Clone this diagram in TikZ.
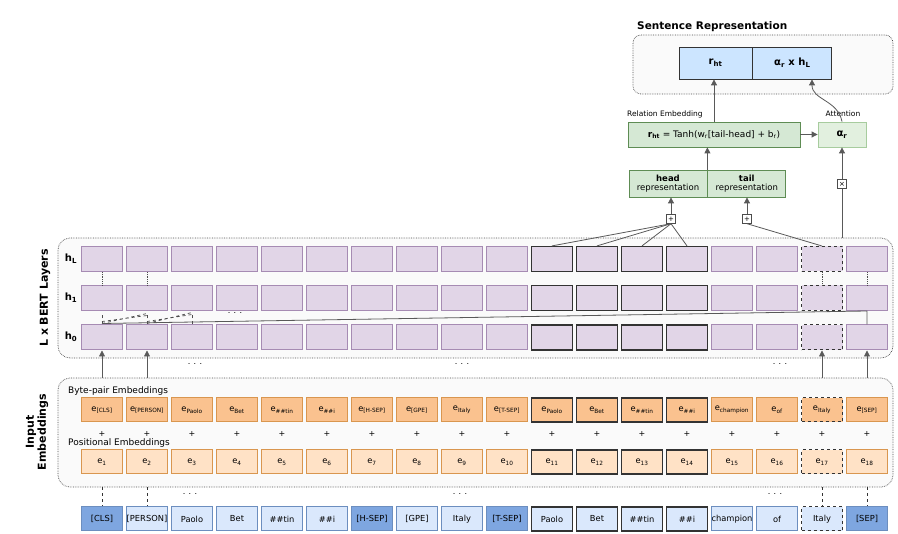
\documentclass[tikz,border=0pt]{standalone}
\usepackage{fontspec}
\setmainfont{DejaVu Sans}
\usetikzlibrary{arrows.meta}
\definecolor{pf}{HTML}{E1D5E7}\definecolor{pd}{HTML}{A68BB3}
\definecolor{of}{HTML}{FAC28F}\definecolor{od}{HTML}{D9964F}
\definecolor{lof}{HTML}{FFE2C6}
\definecolor{tf}{HTML}{DAE8FC}\definecolor{td}{HTML}{7EA6E0}\definecolor{ts}{HTML}{6C8EBF}
\definecolor{gf}{HTML}{D5E8D4}\definecolor{gd}{HTML}{5E8C54}
\definecolor{lgf}{HTML}{E2F0DF}\definecolor{lgd}{HTML}{A7CC9E}
\definecolor{bf}{HTML}{CCE5FF}
\begin{document}
\begin{tikzpicture}[x=1pt,y=-1pt,
 cell/.style={minimum width=41pt,minimum height=25pt,inner sep=0pt,line width=1pt,font=\fontsize{8.3}{9}\selectfont},
 hcell/.style={cell,fill=pf,draw=pd},
 bcell/.style={cell,fill=of,draw=od,minimum height=24pt},
 pcell/.style={cell,fill=lof,draw=od,minimum height=24pt},
 tcell/.style={cell,draw=ts,minimum height=24pt},
 n/.style={}, bd/.style={draw=black!80,line width=1.2pt}, ds/.style={draw=black!80,dashed,line width=1pt},
 cont/.style={draw=black!70,densely dotted,rounded corners=12pt,fill=black!2,line width=0.7pt},
 arr/.style={-{Triangle[width=6pt,length=6pt]},draw=black!65,line width=0.8pt},
 ln/.style={draw=black!65,line width=0.8pt},
 lab/.style={font=\fontsize{9}{10}\selectfont,inner sep=0pt,anchor=west},
 op/.style={draw=black!70,fill=white,inner sep=1pt,font=\fontsize{7}{7}\selectfont,minimum size=9pt}]
\useasboundingbox (0,0) rectangle (898,534);
\node[cont,minimum width=835pt,minimum height=120pt] (bert) at (475.5,298) {};
\node[cont,minimum width=835pt,minimum height=109pt] (inp) at (475.5,432.5) {};
\node[rotate=90,font=\bfseries\fontsize{11}{12}\selectfont] (bl) at (45,298) {L x BERT Layers};
\node[rotate=90,font=\bfseries\fontsize{11}{12}\selectfont,align=center] (il) at (37,432) {Input\\Embeddings};
\node[font=\bfseries\fontsize{10}{10}\selectfont] (rL) at (71,259) {h\textsubscript{L}};
\node[font=\bfseries\fontsize{10}{10}\selectfont] (r1) at (71,298) {h\textsubscript{1}};
\node[font=\bfseries\fontsize{10}{10}\selectfont] (r0) at (71,337) {h\textsubscript{0}};
\node[lab] (bpl) at (68,391) {Byte-pair Embeddings};
\node[lab] (pel) at (68,443) {Positional Embeddings};
\foreach \i/\t/\s/\f in {1/[CLS]/n/td,2/[PERSON]/n/tf,3/Paolo/n/tf,4/Bet/n/tf,5/\#\#tin/n/tf,6/\#\#i/n/tf,7/[H-SEP]/n/td,8/[GPE]/n/tf,9/Italy/n/tf,10/[T-SEP]/n/td,11/Paolo/bd/tf,12/Bet/bd/tf,13/\#\#tin/bd/tf,14/\#\#i/bd/tf,15/champion/n/tf,16/of/n/tf,17/Italy/ds/tf,18/[SEP]/n/td}{
 \pgfmathsetmacro\xx{102+45*(\i-1)}
 \node[hcell,\s] (L\i) at (\xx,259) {};
 \node[hcell,\s] (M\i) at (\xx,298) {};
 \node[hcell,\s] (Z\i) at (\xx,337.5) {};
 \node[bcell,\s] (B\i) at (\xx,410) {e\textsubscript{\t}};
 \node[font=\fontsize{8}{8}\selectfont] (pl\i) at (\xx,434) {+};
 \node[pcell,\s] (P\i) at (\xx,462) {e\textsubscript{\i}};
 \node[tcell,fill=\f,\s] (T\i) at (\xx,519) {\t};
}
\foreach \i in {1,2,17,18}{
 \draw[arr] (inp.north -| Z\i) -- (Z\i.south);
 \draw[black!80,dashed,line width=0.8pt] (inp.south -| T\i) -- (T\i.north);}
\foreach \i in {1,2,17,18}{\draw[black!70,densely dotted,line width=0.8pt] (L\i.south) -- (M\i.north);}
\foreach \x/\y in {195/367,462/367,780/367,190/497,460/497,775/497,235/316}{\node[font=\fontsize{8}{8}\selectfont] at (\x,\y-3) {. . .};}
% h0 connections
\foreach \i in {1,2,3}{\draw[black!70,dashed,line width=0.7pt] (Z\i.north) -- ++(0,-12);}
\draw[black!70,dashed,line width=0.7pt] ([yshift=1pt]Z1.north) -- ([yshift=11pt]Z2.north) ([yshift=1pt]Z2.north) -- ([yshift=12pt]Z3.north)
 ([yshift=3pt]Z1.north) -- ([yshift=9pt]Z2.north) ([yshift=3pt]Z2.north) -- ([yshift=10pt]Z3.north);
\coordinate (jn) at (M18.south);
\draw[ln] ([yshift=1pt]Z1.north) -- (jn) -- (Z18.north);
% top part
\node[cont,rounded corners=8pt,minimum width=260pt,minimum height=59pt] (sr) at (763,64.5) {};
\node[font=\bfseries\fontsize{10.5}{11}\selectfont,anchor=west,inner sep=0pt] (srl) at (637,27) {Sentence Representation};
\node[draw=black!80,fill=bf,minimum width=73pt,minimum height=32pt,inner sep=0pt,line width=0.8pt,font=\bfseries\fontsize{10}{10}\selectfont] (rht) at (715.5,63) {r\textsubscript{ht}};
\node[draw=black!80,fill=bf,minimum width=79pt,minimum height=32pt,inner sep=0pt,line width=0.8pt,font=\bfseries\fontsize{10}{10}\selectfont,anchor=west] (arh) at (rht.east) {α\textsubscript{r} x h\textsubscript{L}};
\node[draw=gd,fill=gf,minimum width=172pt,minimum height=25pt,inner sep=0pt,line width=0.8pt,font=\fontsize{9}{10}\selectfont] (rel) at (714,134.5) {\textbf{r\textsubscript{ht}} = Tanh(w\textsubscript{r}[tail-head] + b\textsubscript{r})};
\node[lab,font=\fontsize{7.5}{8}\selectfont] (rell) at (627,114) {Relation Embedding};
\node[draw=lgd,fill=lgf,minimum width=48pt,minimum height=25pt,inner sep=0pt,line width=0.8pt,font=\bfseries\fontsize{10}{10}\selectfont] (al) at (842,134.5) {α\textsubscript{r}};
\node[font=\fontsize{7.5}{8}\selectfont] (alt) at (843,114) {Attention};
\node[draw=gd,fill=gf,minimum width=78pt,minimum height=27pt,inner sep=0pt,line width=0.8pt,align=center,font=\fontsize{8.5}{9}\selectfont] (hd) at (668,183.5) {\textbf{head}\\representation};
\node[draw=gd,fill=gf,minimum width=78pt,minimum height=27pt,inner sep=0pt,line width=0.8pt,align=center,font=\fontsize{8.5}{9}\selectfont,anchor=west] (tl) at (hd.east) {\textbf{tail}\\representation};
\node[op] (p1) at (671,219) {+};
\node[op] (p2) at (747,219) {+};
\node[op] (mx) at (842,184) {×};
\foreach \i in {11,12,13,14}{\draw[ln] (p1.south) -- (L\i.north);}
\draw[ln] (p2.south) -- (L17.north);
\draw[arr] (p1) -- (hd.south -| p1);
\draw[arr] (p2) -- (tl.south -| p2);
\draw[arr] (hd.north east) -- (rel.south -| hd.north east);
\draw[arr] (rel.north) -- (rht.south -| rel.north);
\draw[arr] (rel.east) -- (al.west);
\draw[arr] (al.north) .. controls (838,100) and (812,100) .. (arh.south -| 812,0);
\draw[ln] (bert.north -| mx) -- (mx.south);
\draw[arr] (mx.north) -- (al.south);
\end{tikzpicture}
\end{document}
